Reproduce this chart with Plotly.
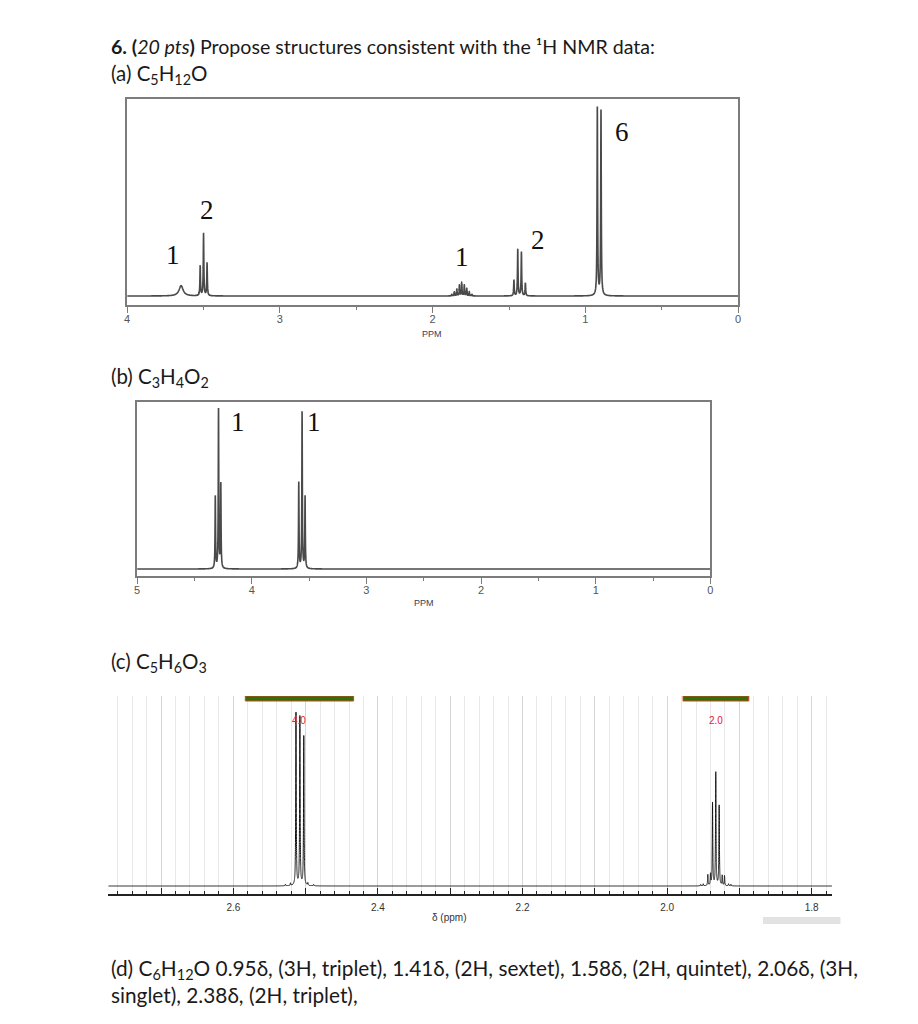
import numpy as np
import plotly.graph_objects as go

W, H = 918, 1024

# ---------------- data ----------------
# (a) C5H12O : peak positions (ppm), intensities, half-widths (ppm)
a_ppm = [3.647, 3.522, 3.500, 3.477,
         1.875, 1.858, 1.842, 1.825, 1.810, 1.793, 1.777, 1.760, 1.743,
         1.468, 1.443, 1.419, 1.393,
         0.922, 0.898]
a_int = [10.3, 30.0, 61.7, 32.7,
         1.5, 4.0, 6.7, 10.7, 13.3, 10.7, 7.3, 4.0, 1.5,
         15.7, 46.7, 43.3, 12.7,
         188.0, 185.0]
a_hwhm = [0.016] + [0.0022] * 18
a_labels = ["1", "2", "1", "2", "6"]
a_label_ppm = [3.70, 3.48, 1.808, 1.311, 0.759]
a_label_h = [41, 86, 39, 56, 164]
a_ticks = [4, 3, 2, 1, 0]
a_minor = [3.5, 2.5, 1.5, 0.5]

# (b) C3H4O2
b_ppm = [4.318, 4.290, 4.270, 3.590, 3.561, 3.535]
b_int = [72.0, 159.0, 84.0, 86.0, 156.0, 72.0]
b_hwhm = [0.0026] * 6
b_labels = ["1", "1"]
b_label_ppm = [4.122, 3.460]
b_label_h = [147, 147]
b_ticks = [5, 4, 3, 2, 1, 0]
b_minor = [4.5, 3.5, 2.5, 1.5, 0.5]

# (c) C5H6O3
c_ppm = [2.528, 2.521, 2.5134, 2.5080, 2.5026, 2.497, 2.489,
         1.9536, 1.9500, 1.9437, 1.9400, 1.9372, 1.9327, 1.9280, 1.9238, 1.9206, 1.9150, 1.9118]
c_int = [1.5, 2.5, 172.7, 168.7, 149.3, 2.5, 1.5,
         1.5, 2.0, 11.0, 11.0, 82.7, 113.0, 80.0, 10.0, 10.0, 2.0, 1.5]
c_hwhm = [0.0004] * len(c_ppm)
c_integ_from = [2.5835, 1.978]
c_integ_to = [2.4337, 1.887]
c_integ_val = ["4.0", "2.0"]
c_tickvals = [2.7, 2.6, 2.5, 2.4, 2.3, 2.2, 2.1, 2.0, 1.9, 1.8]
c_ticktext = ["", "2.6", "", "2.4", "", "2.2", "", "2.0", "", "1.8"]


def spectrum(ppm, inten, hwhm, lo, hi):
    parts = [np.linspace(lo, hi, 3000)]
    for p, w in zip(ppm, hwhm):
        parts.append(np.linspace(p - 14 * w, p + 14 * w, 401))
    x = np.unique(np.concatenate(parts))
    x = x[(x >= min(lo, hi)) & (x <= max(lo, hi))]
    y = np.zeros_like(x)
    for p, h, w in zip(ppm, inten, hwhm):
        y += h * w ** 2 / ((x - p) ** 2 + w ** 2)
    return x, y


def xd(l, r):
    return [l / W, r / W]


def yd(top, bottom):
    return [1 - bottom / H, 1 - top / H]


fig = go.Figure()

xa, ya = spectrum(a_ppm, a_int, a_hwhm, 0.0, 4.0)
fig.add_trace(go.Scatter(x=xa, y=ya, mode="lines", xaxis="x", yaxis="y",
                         line=dict(color="#4a4a4a", width=1.6, simplify=False),
                         hoverinfo="skip", showlegend=False))
xb, yb = spectrum(b_ppm, b_int, b_hwhm, 0.0, 5.0)
fig.add_trace(go.Scatter(x=xb, y=yb, mode="lines", xaxis="x2", yaxis="y2",
                         line=dict(color="#4a4a4a", width=1.6, simplify=False),
                         hoverinfo="skip", showlegend=False))
xc, yc = spectrum(c_ppm, c_int, c_hwhm, 1.772, 2.773)
fig.add_trace(go.Scatter(x=xc, y=yc, mode="lines", xaxis="x3", yaxis="y3",
                         line=dict(color="#111111", width=1.0, simplify=False),
                         hoverinfo="skip", showlegend=False))

frame = "#7c7c7c"
tickfont = dict(family="Liberation Sans", size=11, color="#555555")

common_box_x = dict(showline=True, linecolor=frame, linewidth=2, mirror=True,
                    showgrid=False, zeroline=False, ticks="outside", ticklen=6,
                    tickcolor=frame, tickwidth=1, tickfont=tickfont, ticklabelstandoff=-3)
common_box_y = dict(showline=True, linecolor=frame, linewidth=2, mirror=True,
                    showgrid=False, zeroline=False, showticklabels=False, ticks="")

fig.update_layout(
    width=W, height=H, margin=dict(l=0, r=0, t=0, b=0),
    paper_bgcolor="white", plot_bgcolor="white",
    xaxis=dict(domain=xd(125, 740), range=[4, 0], anchor="y",
               tickvals=a_ticks, ticktext=[str(t) for t in a_ticks],
               minor=dict(tickvals=a_minor, ticks="outside", ticklen=3, tickcolor=frame),
               **common_box_x),
    yaxis=dict(domain=yd(99, 305), range=[-9, 197], anchor="x", **common_box_y),
    xaxis2=dict(domain=xd(135, 712), range=[5, 0], anchor="y2",
                tickvals=b_ticks, ticktext=[str(t) for t in b_ticks],
                minor=dict(tickvals=b_minor, ticks="outside", ticklen=3, tickcolor=frame),
                **common_box_x),
    yaxis2=dict(domain=yd(402, 576), range=[-7, 167], anchor="x2", **common_box_y),
    xaxis3=dict(domain=xd(106, 834.4), range=[2.773, 1.772], anchor="y3",
                showline=True, linecolor="#222222", linewidth=1.5,
                tickvals=c_tickvals, ticktext=c_ticktext,
                ticks="inside", ticklen=6, tickcolor="#222222", ticklabelstandoff=3,
                showgrid=True, gridcolor="#d6d6d6", gridwidth=1, zeroline=False,
                tickfont=dict(family="Liberation Sans", size=10, color="#333333"),
                minor=dict(dtick=0.02, tick0=0, ticks="inside", ticklen=3,
                           tickcolor="#222222", showgrid=True, gridcolor="#e8e8e8")),
    yaxis3=dict(domain=yd(696, 894), range=[-8, 190], anchor="x3",
                visible=False, showgrid=False, zeroline=False),
)

ann = []
text_font = dict(family="Lato", size=19.6, color="#1a1a1a")


def txt(x, y, s, **kw):
    d = dict(x=x / W, y=1 - y / H, xref="paper", yref="paper", text=s,
             showarrow=False, xanchor="left", yanchor="middle", font=text_font)
    d.update(kw)
    ann.append(d)


big = dict(family="Lato", size=20.5, color="#1a1a1a")
dfont = dict(family="Lato", size=20.8, color="#1a1a1a")
txt(107, 46, "<b>6. (</b><i>20 pts</i><b>)</b> Propose structures consistent with the ¹H NMR data:")
txt(107, 74, "(a) C<sub>5</sub>H<sub>12</sub>O", font=big)
txt(107, 377, "(b) C<sub>3</sub>H<sub>4</sub>O<sub>2</sub>", font=big)
txt(107, 662, "(c) C<sub>5</sub>H<sub>6</sub>O<sub>3</sub>", font=big)
txt(107, 969, "(d) C<sub>6</sub>H<sub>12</sub>O 0.95δ, (3H, triplet), 1.41δ, (2H, sextet), 1.58δ, (2H, quintet), 2.06δ, (3H,", font=dfont)
txt(107, 994, "singlet), 2.38δ, (2H, triplet),", font=dfont)

ppm_font = dict(family="Liberation Sans", size=9, color="#34405a")
txt(432, 334, "PPM", xanchor="center", font=ppm_font)
txt(423.5, 603, "PPM", xanchor="center", font=ppm_font)
txt(449, 917, "δ (ppm)", xanchor="center",
    font=dict(family="Liberation Sans", size=10, color="#333333"))

serif = dict(family="Liberation Serif", size=27, color="#111111")
for lab, p, h in zip(a_labels, a_label_ppm, a_label_h):
    ann.append(dict(x=p, y=h, xref="x", yref="y", text=lab, showarrow=False,
                    xanchor="center", yanchor="middle", font=serif))
for lab, p, h in zip(b_labels, b_label_ppm, b_label_h):
    ann.append(dict(x=p, y=h, xref="x2", yref="y2", text=lab, showarrow=False,
                    xanchor="center", yanchor="middle", font=serif))

shapes = []
for f, t, v in zip(c_integ_from, c_integ_to, c_integ_val):
    shapes.append(dict(type="rect", xref="x3", yref="y3", x0=f, x1=t, y0=185, y1=190,
                       fillcolor="#2b710e", line=dict(color="#d2461c", width=1)))
    ann.append(dict(x=(f + t) / 2, y=166, xref="x3", yref="y3", text=v, showarrow=False,
                    xanchor="center", yanchor="middle",
                    font=dict(family="Liberation Sans", size=10, color="#e8202a")))

shapes.append(dict(type="rect", xref="paper", yref="paper",
                   x0=765 / W, x1=843 / W, y0=1 - 924 / H, y1=1 - 917 / H,
                   fillcolor="#e2e2e2", line=dict(width=0)))

fig.update_layout(annotations=ann, shapes=shapes)
fig.write_html("out.html", config={"displayModeBar": False},
               post_script="document.body.style.margin='0';")
